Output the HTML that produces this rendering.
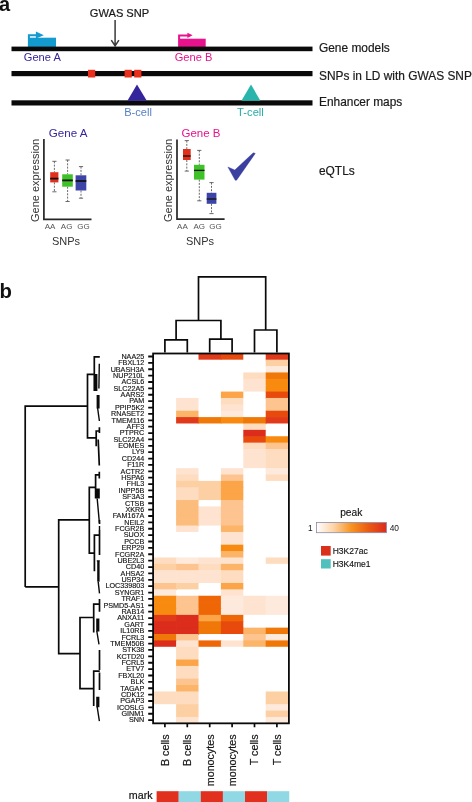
<!DOCTYPE html>
<html><head><meta charset="utf-8"><title>Figure</title>
<style>
html,body{margin:0;padding:0;background:#fff;}
body{width:472px;height:802px;overflow:hidden;}
svg{display:block;}
svg text{font-family:"Liberation Sans",sans-serif;}
</style></head><body>
<svg width="472" height="802" viewBox="0 0 472 802">
<rect x="0" y="0" width="472" height="802" fill="#fff"/>
<text x="-1.1" y="10.5" font-size="20" font-weight="bold" fill="#111">a</text>
<text x="119.5" y="16.6" font-size="11.1" text-anchor="middle" fill="#1a1a1a" stroke="#1a1a1a" stroke-width="0.2">GWAS SNP</text>
<path d="M115.1 20 V45.6 M111.3 40.2 L115.1 46 L118.9 40.2" fill="none" stroke="#3a3a3a" stroke-width="1.5"/>
<rect x="27.9" y="37.7" width="28.1" height="9.3" fill="#139bd0"/>
<path d="M28.9 38 V35.2 H37" fill="none" stroke="#139bd0" stroke-width="2"/>
<path d="M35.9 31.4 L43.8 35.3 L35.9 38.6 Z" fill="#139bd0"/>
<rect x="178.1" y="38.7" width="27.6" height="8.3" fill="#e8128c"/>
<path d="M179.1 39 V35.4 H188" fill="none" stroke="#e8128c" stroke-width="2"/>
<path d="M187.4 32.7 L192.6 35.3 L187.4 38 Z" fill="#e8128c"/>
<rect x="11.5" y="46.6" width="301" height="4.6" fill="#0a0a0a"/>
<rect x="11.5" y="71" width="301" height="5.2" fill="#0a0a0a"/>
<rect x="11.5" y="100.3" width="301" height="5.2" fill="#0a0a0a"/>
<text x="23.8" y="61.3" font-size="11.1" fill="#35259c">Gene A</text>
<text x="174.7" y="60.8" font-size="11.1" fill="#e8128c">Gene B</text>
<rect x="88" y="69.8" width="7.2" height="7.7" fill="#e8301c"/>
<rect x="124.6" y="69.8" width="7.2" height="7.7" fill="#e8301c"/>
<rect x="134.2" y="69.8" width="7.2" height="7.7" fill="#e8301c"/>
<path d="M137 84.4 L127.4 100.8 L146.8 100.8 Z" fill="#35259c"/>
<path d="M251 84.4 L241.4 100.8 L260.4 100.8 Z" fill="#2ab5ac"/>
<text x="124.2" y="116.2" font-size="11.1" fill="#5580c4">B-cell</text>
<text x="237.1" y="116.3" font-size="11.2" fill="#27ada8">T-cell</text>
<text x="319" y="52.4" font-size="11.9" fill="#1a1a1a" stroke="#1a1a1a" stroke-width="0.2">Gene models</text>
<text x="319" y="79.6" font-size="11.9" fill="#1a1a1a" stroke="#1a1a1a" stroke-width="0.2">SNPs in LD with GWAS SNP</text>
<text x="319" y="106.2" font-size="11.9" fill="#1a1a1a" stroke="#1a1a1a" stroke-width="0.2">Enhancer maps</text>
<text x="319" y="174.7" font-size="11.9" fill="#1a1a1a" stroke="#1a1a1a" stroke-width="0.2">eQTLs</text>
<path d="M43.9 139 V219.4 H91.5" fill="none" stroke="#262626" stroke-width="1.7"/>
<path d="M54.4 161.3 V172.2 M54.4 182.4 V191.8" stroke="#5a5a5a" stroke-width="0.9" stroke-dasharray="2 1.3" fill="none"/><path d="M52.3 161.3 H56.5 M52.3 191.8 H56.5" stroke="#5a5a5a" stroke-width="0.9" fill="none"/><rect x="50.2" y="172.2" width="8.2" height="10.2" fill="#e1301e"/><path d="M50.2 178.6 H58.4" stroke="#111" stroke-width="1.8"/>
<path d="M67.6 160 V174.3 M67.6 186.7 V201.5" stroke="#5a5a5a" stroke-width="0.9" stroke-dasharray="2 1.3" fill="none"/><path d="M65.5 160 H69.7 M65.5 201.5 H69.7" stroke="#5a5a5a" stroke-width="0.9" fill="none"/><rect x="62.2" y="174.3" width="10.6" height="12.4" fill="#3fc128"/><path d="M62.2 180.4 H72.8" stroke="#111" stroke-width="1.8"/>
<path d="M81 166.6 V175.3 M81 190.5 V198.2" stroke="#5a5a5a" stroke-width="0.9" stroke-dasharray="2 1.3" fill="none"/><path d="M78.9 166.6 H83.1 M78.9 198.2 H83.1" stroke="#5a5a5a" stroke-width="0.9" fill="none"/><rect x="75.6" y="175.3" width="10.7" height="15.2" fill="#3c44a8"/><path d="M75.6 181 H86.3" stroke="#111" stroke-width="1.8"/>
<text x="68.1" y="136.6" font-size="11.6" text-anchor="middle" fill="#35259c">Gene A</text>
<text transform="translate(39.3 222) rotate(-90)" font-size="11" fill="#333">Gene expression</text>
<text x="50" y="229" font-size="8" text-anchor="middle" fill="#555">AA</text>
<text x="66.6" y="229" font-size="8" text-anchor="middle" fill="#555">AG</text>
<text x="83.5" y="229" font-size="8" text-anchor="middle" fill="#555">GG</text>
<text x="66" y="244.6" font-size="11" text-anchor="middle" fill="#333">SNPs</text>
<path d="M177 139.6 V219.2 H224.6" fill="none" stroke="#262626" stroke-width="1.7"/>
<path d="M186.8 140.6 V149 M186.8 160 V171.1" stroke="#5a5a5a" stroke-width="0.9" stroke-dasharray="2 1.3" fill="none"/><path d="M184.7 140.6 H188.9 M184.7 171.1 H188.9" stroke="#5a5a5a" stroke-width="0.9" fill="none"/><rect x="183" y="149" width="7.7" height="11.0" fill="#e1301e"/><path d="M183 156 H190.7" stroke="#111" stroke-width="1.3"/>
<path d="M199.3 150.4 V164.8 M199.3 179.6 V200.8" stroke="#5a5a5a" stroke-width="0.9" stroke-dasharray="2 1.3" fill="none"/><path d="M197.2 150.4 H201.4 M197.2 200.8 H201.4" stroke="#5a5a5a" stroke-width="0.9" fill="none"/><rect x="194" y="164.8" width="10.5" height="14.8" fill="#3fc128"/><path d="M194 170.4 H204.5" stroke="#111" stroke-width="1.3"/>
<path d="M211.5 182.6 V192.8 M211.5 203.8 V213.6" stroke="#5a5a5a" stroke-width="0.9" stroke-dasharray="2 1.3" fill="none"/><path d="M209.4 182.6 H213.6 M209.4 213.6 H213.6" stroke="#5a5a5a" stroke-width="0.9" fill="none"/><rect x="206.7" y="192.8" width="9.7" height="11.0" fill="#3c44a8"/><path d="M206.7 199 H216.4" stroke="#111" stroke-width="1.3"/>
<text x="201" y="136.5" font-size="11.5" text-anchor="middle" fill="#e8128c">Gene B</text>
<text transform="translate(172.2 222) rotate(-90)" font-size="11" fill="#333">Gene expression</text>
<text x="182.4" y="229" font-size="8" text-anchor="middle" fill="#555">AA</text>
<text x="199.3" y="229" font-size="8" text-anchor="middle" fill="#555">AG</text>
<text x="215.5" y="229" font-size="8" text-anchor="middle" fill="#555">GG</text>
<text x="200" y="244.6" font-size="11" text-anchor="middle" fill="#333">SNPs</text>
<path d="M227.9 167 L234.8 170 L253.3 152.8 L255.3 153.4 L236.6 180.2 L235.2 180.2 Z" fill="#3b3f9f" stroke="#3b3f9f" stroke-width="0.4" stroke-linejoin="round"/>
<text x="-0.5" y="297.8" font-size="20.3" font-weight="bold" fill="#111">b</text>
<rect x="198.50" y="353.30" width="23.10" height="6.38" fill="#e03a1a"/>
<rect x="220.90" y="353.30" width="22.40" height="6.38" fill="#e84a0e"/>
<rect x="265.70" y="353.30" width="22.40" height="7.08" fill="#e03a1a"/>
<rect x="265.70" y="359.68" width="22.40" height="7.08" fill="#fdd0a4"/>
<rect x="265.70" y="366.06" width="22.40" height="7.08" fill="#feeadc"/>
<rect x="243.30" y="372.44" width="23.10" height="7.08" fill="#fedcc0"/>
<rect x="265.70" y="372.44" width="22.40" height="7.08" fill="#f07808"/>
<rect x="243.30" y="378.82" width="23.10" height="7.08" fill="#fee4d0"/>
<rect x="265.70" y="378.82" width="22.40" height="7.08" fill="#f88a10"/>
<rect x="243.30" y="385.20" width="23.10" height="6.38" fill="#fee4d0"/>
<rect x="265.70" y="385.20" width="22.40" height="7.08" fill="#f88a10"/>
<rect x="220.90" y="391.58" width="22.40" height="7.08" fill="#fba548"/>
<rect x="265.70" y="391.58" width="22.40" height="7.08" fill="#e84a0e"/>
<rect x="176.10" y="397.96" width="22.40" height="7.08" fill="#fee4d0"/>
<rect x="220.90" y="397.96" width="22.40" height="7.08" fill="#fedcc0"/>
<rect x="265.70" y="397.96" width="22.40" height="7.08" fill="#fdc490"/>
<rect x="176.10" y="404.34" width="22.40" height="7.08" fill="#fee4d0"/>
<rect x="220.90" y="404.34" width="22.40" height="7.08" fill="#fee4d0"/>
<rect x="265.70" y="404.34" width="22.40" height="7.08" fill="#fdc490"/>
<rect x="176.10" y="410.72" width="22.40" height="7.08" fill="#fcb468"/>
<rect x="220.90" y="410.72" width="22.40" height="7.08" fill="#feeadc"/>
<rect x="265.70" y="410.72" width="22.40" height="7.08" fill="#e84a0e"/>
<rect x="176.10" y="417.10" width="23.10" height="6.38" fill="#e03a1a"/>
<rect x="198.50" y="417.10" width="23.10" height="6.38" fill="#f07808"/>
<rect x="220.90" y="417.10" width="23.10" height="6.38" fill="#f88a10"/>
<rect x="243.30" y="417.10" width="23.10" height="7.08" fill="#f07808"/>
<rect x="265.70" y="417.10" width="22.40" height="6.38" fill="#e03a1a"/>
<rect x="243.30" y="423.48" width="22.40" height="7.08" fill="#fedcc0"/>
<rect x="243.30" y="429.86" width="22.40" height="7.08" fill="#dc2c1c"/>
<rect x="243.30" y="436.24" width="23.10" height="7.08" fill="#e84a0e"/>
<rect x="265.70" y="436.24" width="22.40" height="7.08" fill="#f88a10"/>
<rect x="243.30" y="442.62" width="23.10" height="7.08" fill="#fedcc0"/>
<rect x="265.70" y="442.62" width="22.40" height="7.08" fill="#fdc490"/>
<rect x="243.30" y="449.00" width="23.10" height="7.08" fill="#fee4d0"/>
<rect x="265.70" y="449.00" width="22.40" height="7.08" fill="#fedcc0"/>
<rect x="243.30" y="455.38" width="23.10" height="7.08" fill="#fee4d0"/>
<rect x="265.70" y="455.38" width="22.40" height="7.08" fill="#fedcc0"/>
<rect x="243.30" y="461.76" width="23.10" height="6.38" fill="#fee4d0"/>
<rect x="265.70" y="461.76" width="22.40" height="7.08" fill="#fedcc0"/>
<rect x="176.10" y="468.14" width="22.40" height="7.08" fill="#fee4d0"/>
<rect x="220.90" y="468.14" width="22.40" height="7.08" fill="#fee4d0"/>
<rect x="265.70" y="468.14" width="22.40" height="7.08" fill="#feeadc"/>
<rect x="176.10" y="474.52" width="22.40" height="7.08" fill="#fedcc0"/>
<rect x="220.90" y="474.52" width="22.40" height="7.08" fill="#fdc490"/>
<rect x="265.70" y="474.52" width="22.40" height="6.38" fill="#fedcc0"/>
<rect x="176.10" y="480.90" width="23.10" height="7.08" fill="#fdd0a4"/>
<rect x="198.50" y="480.90" width="23.10" height="7.08" fill="#fdd0a4"/>
<rect x="220.90" y="480.90" width="22.40" height="7.08" fill="#fba548"/>
<rect x="176.10" y="487.28" width="23.10" height="7.08" fill="#fedcc0"/>
<rect x="198.50" y="487.28" width="23.10" height="7.08" fill="#fdd0a4"/>
<rect x="220.90" y="487.28" width="22.40" height="7.08" fill="#fba548"/>
<rect x="176.10" y="493.66" width="23.10" height="7.08" fill="#fedcc0"/>
<rect x="198.50" y="493.66" width="23.10" height="6.38" fill="#fdd0a4"/>
<rect x="220.90" y="493.66" width="22.40" height="7.08" fill="#fba548"/>
<rect x="176.10" y="500.04" width="22.40" height="7.08" fill="#fcbc7c"/>
<rect x="220.90" y="500.04" width="22.40" height="7.08" fill="#fdc490"/>
<rect x="176.10" y="506.42" width="23.10" height="7.08" fill="#fcbc7c"/>
<rect x="198.50" y="506.42" width="23.10" height="7.08" fill="#fee4d0"/>
<rect x="220.90" y="506.42" width="22.40" height="7.08" fill="#fdc490"/>
<rect x="176.10" y="512.80" width="23.10" height="7.08" fill="#fcbc7c"/>
<rect x="198.50" y="512.80" width="23.10" height="7.08" fill="#fee4d0"/>
<rect x="220.90" y="512.80" width="22.40" height="7.08" fill="#fdc490"/>
<rect x="176.10" y="519.18" width="23.10" height="7.08" fill="#fcbc7c"/>
<rect x="198.50" y="519.18" width="23.10" height="6.38" fill="#fee4d0"/>
<rect x="220.90" y="519.18" width="22.40" height="7.08" fill="#fdc490"/>
<rect x="176.10" y="525.56" width="22.40" height="6.38" fill="#fee4d0"/>
<rect x="220.90" y="525.56" width="22.40" height="7.08" fill="#fcb468"/>
<rect x="220.90" y="531.94" width="22.40" height="7.08" fill="#fee4d0"/>
<rect x="220.90" y="538.32" width="22.40" height="7.08" fill="#fee4d0"/>
<rect x="220.90" y="544.70" width="22.40" height="7.08" fill="#f88a10"/>
<rect x="220.90" y="551.08" width="22.40" height="7.08" fill="#fcb468"/>
<rect x="153.70" y="557.46" width="23.10" height="7.08" fill="#fedcc0"/>
<rect x="176.10" y="557.46" width="23.10" height="7.08" fill="#feeadc"/>
<rect x="198.50" y="557.46" width="23.10" height="7.08" fill="#fee4d0"/>
<rect x="220.90" y="557.46" width="22.40" height="7.08" fill="#fee4d0"/>
<rect x="265.70" y="557.46" width="22.40" height="6.38" fill="#fedcc0"/>
<rect x="153.70" y="563.84" width="23.10" height="7.08" fill="#fdd0a4"/>
<rect x="176.10" y="563.84" width="23.10" height="7.08" fill="#fdc490"/>
<rect x="198.50" y="563.84" width="23.10" height="7.08" fill="#fedcc0"/>
<rect x="220.90" y="563.84" width="22.40" height="7.08" fill="#fcb468"/>
<rect x="153.70" y="570.22" width="23.10" height="7.08" fill="#fee4d0"/>
<rect x="176.10" y="570.22" width="23.10" height="7.08" fill="#fee4d0"/>
<rect x="198.50" y="570.22" width="23.10" height="7.08" fill="#fee4d0"/>
<rect x="220.90" y="570.22" width="22.40" height="7.08" fill="#fedcc0"/>
<rect x="153.70" y="576.60" width="23.10" height="7.08" fill="#fee4d0"/>
<rect x="176.10" y="576.60" width="23.10" height="7.08" fill="#fee4d0"/>
<rect x="198.50" y="576.60" width="23.10" height="6.38" fill="#fee4d0"/>
<rect x="220.90" y="576.60" width="22.40" height="7.08" fill="#fedcc0"/>
<rect x="153.70" y="582.98" width="23.10" height="7.08" fill="#fdc490"/>
<rect x="176.10" y="582.98" width="22.40" height="6.38" fill="#fdd0a4"/>
<rect x="220.90" y="582.98" width="22.40" height="7.08" fill="#fba548"/>
<rect x="153.70" y="589.36" width="22.40" height="7.08" fill="#feeadc"/>
<rect x="220.90" y="589.36" width="22.40" height="7.08" fill="#fee4d0"/>
<rect x="153.70" y="595.74" width="23.10" height="7.08" fill="#f88a10"/>
<rect x="176.10" y="595.74" width="23.10" height="7.08" fill="#fdc490"/>
<rect x="198.50" y="595.74" width="23.10" height="7.08" fill="#ee6606"/>
<rect x="220.90" y="595.74" width="23.10" height="7.08" fill="#feeadc"/>
<rect x="243.30" y="595.74" width="23.10" height="7.08" fill="#fee4d0"/>
<rect x="265.70" y="595.74" width="22.40" height="7.08" fill="#feeadc"/>
<rect x="153.70" y="602.12" width="23.10" height="7.08" fill="#f88a10"/>
<rect x="176.10" y="602.12" width="23.10" height="7.08" fill="#fdc490"/>
<rect x="198.50" y="602.12" width="23.10" height="7.08" fill="#ee6606"/>
<rect x="220.90" y="602.12" width="23.10" height="7.08" fill="#feeadc"/>
<rect x="243.30" y="602.12" width="23.10" height="7.08" fill="#fee4d0"/>
<rect x="265.70" y="602.12" width="22.40" height="7.08" fill="#feeadc"/>
<rect x="153.70" y="608.50" width="23.10" height="7.08" fill="#f88a10"/>
<rect x="176.10" y="608.50" width="23.10" height="7.08" fill="#fdc490"/>
<rect x="198.50" y="608.50" width="23.10" height="7.08" fill="#ee6606"/>
<rect x="220.90" y="608.50" width="23.10" height="7.08" fill="#feeadc"/>
<rect x="243.30" y="608.50" width="23.10" height="6.38" fill="#fee4d0"/>
<rect x="265.70" y="608.50" width="22.40" height="6.38" fill="#feeadc"/>
<rect x="153.70" y="614.88" width="23.10" height="7.08" fill="#e03a1a"/>
<rect x="176.10" y="614.88" width="23.10" height="7.08" fill="#dc2c1c"/>
<rect x="198.50" y="614.88" width="23.10" height="7.08" fill="#fba548"/>
<rect x="220.90" y="614.88" width="22.40" height="7.08" fill="#ee6606"/>
<rect x="153.70" y="621.26" width="23.10" height="7.08" fill="#dc2c1c"/>
<rect x="176.10" y="621.26" width="23.10" height="7.08" fill="#dc2c1c"/>
<rect x="198.50" y="621.26" width="23.10" height="7.08" fill="#f07808"/>
<rect x="220.90" y="621.26" width="22.40" height="7.08" fill="#e84a0e"/>
<rect x="153.70" y="627.64" width="23.10" height="7.08" fill="#dc2c1c"/>
<rect x="176.10" y="627.64" width="23.10" height="7.08" fill="#dc2c1c"/>
<rect x="198.50" y="627.64" width="23.10" height="6.38" fill="#f07808"/>
<rect x="220.90" y="627.64" width="23.10" height="6.38" fill="#e84a0e"/>
<rect x="243.30" y="627.64" width="23.10" height="7.08" fill="#fcb468"/>
<rect x="265.70" y="627.64" width="22.40" height="7.08" fill="#f07808"/>
<rect x="153.70" y="634.02" width="23.10" height="7.08" fill="#f07808"/>
<rect x="176.10" y="634.02" width="22.40" height="7.08" fill="#fdc490"/>
<rect x="243.30" y="634.02" width="23.10" height="7.08" fill="#fdc490"/>
<rect x="265.70" y="634.02" width="22.40" height="7.08" fill="#feeadc"/>
<rect x="153.70" y="640.40" width="23.10" height="6.38" fill="#dc2c1c"/>
<rect x="176.10" y="640.40" width="23.10" height="7.08" fill="#fee4d0"/>
<rect x="198.50" y="640.40" width="23.10" height="6.38" fill="#ee6606"/>
<rect x="220.90" y="640.40" width="23.10" height="6.38" fill="#fee4d0"/>
<rect x="243.30" y="640.40" width="23.10" height="6.38" fill="#fcb468"/>
<rect x="265.70" y="640.40" width="22.40" height="6.38" fill="#f07808"/>
<rect x="176.10" y="646.78" width="22.40" height="7.08" fill="#fedcc0"/>
<rect x="176.10" y="653.16" width="22.40" height="7.08" fill="#fedcc0"/>
<rect x="176.10" y="659.54" width="22.40" height="7.08" fill="#fba548"/>
<rect x="176.10" y="665.92" width="22.40" height="7.08" fill="#fedcc0"/>
<rect x="176.10" y="672.30" width="22.40" height="7.08" fill="#fedcc0"/>
<rect x="176.10" y="678.68" width="22.40" height="7.08" fill="#fdc490"/>
<rect x="176.10" y="685.06" width="22.40" height="7.08" fill="#fcb468"/>
<rect x="153.70" y="691.44" width="23.10" height="7.08" fill="#fedcc0"/>
<rect x="176.10" y="691.44" width="22.40" height="7.08" fill="#fedcc0"/>
<rect x="265.70" y="691.44" width="22.40" height="7.08" fill="#fdd0a4"/>
<rect x="153.70" y="697.82" width="23.10" height="6.38" fill="#fedcc0"/>
<rect x="176.10" y="697.82" width="22.40" height="7.08" fill="#fedcc0"/>
<rect x="265.70" y="697.82" width="22.40" height="7.08" fill="#fdd0a4"/>
<rect x="176.10" y="704.20" width="22.40" height="7.08" fill="#fdd0a4"/>
<rect x="265.70" y="704.20" width="22.40" height="7.08" fill="#feeadc"/>
<rect x="176.10" y="710.58" width="22.40" height="7.08" fill="#fdd0a4"/>
<rect x="265.70" y="710.58" width="22.40" height="7.08" fill="#fdd0a4"/>
<rect x="176.10" y="716.96" width="22.40" height="6.38" fill="#fee4d0"/>
<rect x="265.70" y="716.96" width="22.40" height="6.38" fill="#feeadc"/>
<rect x="153.10" y="353.50" width="135.80" height="369.84" fill="none" stroke="#0a0a0a" stroke-width="1.8"/>
<path d="M148.2 356.49H153.0M148.2 362.87H153.0M148.2 369.25H153.0M148.2 375.63H153.0M148.2 382.01H153.0M148.2 388.39H153.0M148.2 394.77H153.0M148.2 401.15H153.0M148.2 407.53H153.0M148.2 413.91H153.0M148.2 420.29H153.0M148.2 426.67H153.0M148.2 433.05H153.0M148.2 439.43H153.0M148.2 445.81H153.0M148.2 452.19H153.0M148.2 458.57H153.0M148.2 464.95H153.0M148.2 471.33H153.0M148.2 477.71H153.0M148.2 484.09H153.0M148.2 490.47H153.0M148.2 496.85H153.0M148.2 503.23H153.0M148.2 509.61H153.0M148.2 515.99H153.0M148.2 522.37H153.0M148.2 528.75H153.0M148.2 535.13H153.0M148.2 541.51H153.0M148.2 547.89H153.0M148.2 554.27H153.0M148.2 560.65H153.0M148.2 567.03H153.0M148.2 573.41H153.0M148.2 579.79H153.0M148.2 586.17H153.0M148.2 592.55H153.0M148.2 598.93H153.0M148.2 605.31H153.0M148.2 611.69H153.0M148.2 618.07H153.0M148.2 624.45H153.0M148.2 630.83H153.0M148.2 637.21H153.0M148.2 643.59H153.0M148.2 649.97H153.0M148.2 656.35H153.0M148.2 662.73H153.0M148.2 669.11H153.0M148.2 675.49H153.0M148.2 681.87H153.0M148.2 688.25H153.0M148.2 694.63H153.0M148.2 701.01H153.0M148.2 707.39H153.0M148.2 713.77H153.0M148.2 720.15H153.0" stroke="#0a0a0a" stroke-width="1.8" fill="none"/>
<g font-size="7.2" text-anchor="end" fill="#151515" stroke="#151515" stroke-width="0.15">
<text x="144.2" y="358.79">NAA25</text>
<text x="144.2" y="365.17">FBXL12</text>
<text x="144.2" y="371.55">UBASH3A</text>
<text x="144.2" y="377.93">NUP210L</text>
<text x="144.2" y="384.31">ACSL6</text>
<text x="144.2" y="390.69">SLC22A5</text>
<text x="144.2" y="397.07">AARS2</text>
<text x="144.2" y="403.45">PAM</text>
<text x="144.2" y="409.83">PPIP5K2</text>
<text x="144.2" y="416.21">RNASET2</text>
<text x="144.2" y="422.59">TMEM116</text>
<text x="144.2" y="428.97">AFF3</text>
<text x="144.2" y="435.35">PTPRC</text>
<text x="144.2" y="441.73">SLC22A4</text>
<text x="144.2" y="448.11">EOMES</text>
<text x="144.2" y="454.49">LY9</text>
<text x="144.2" y="460.87">CD244</text>
<text x="144.2" y="467.25">F11R</text>
<text x="144.2" y="473.63">ACTR2</text>
<text x="144.2" y="480.01">HSPA6</text>
<text x="144.2" y="486.39">FHL3</text>
<text x="144.2" y="492.77">INPP5B</text>
<text x="144.2" y="499.15">SF3A3</text>
<text x="144.2" y="505.53">CTSB</text>
<text x="144.2" y="511.91">XKR6</text>
<text x="144.2" y="518.29">FAM167A</text>
<text x="144.2" y="524.67">NEIL2</text>
<text x="144.2" y="531.05">FCGR2B</text>
<text x="144.2" y="537.43">SUOX</text>
<text x="144.2" y="543.81">PCCB</text>
<text x="144.2" y="550.19">ERP29</text>
<text x="144.2" y="556.57">FCGR2A</text>
<text x="144.2" y="562.95">UBE2L3</text>
<text x="144.2" y="569.33">CD40</text>
<text x="144.2" y="575.71">AHSA2</text>
<text x="144.2" y="582.09">USP34</text>
<text x="144.2" y="588.47">LOC339803</text>
<text x="144.2" y="594.85">SYNGR1</text>
<text x="144.2" y="601.23">TRAF1</text>
<text x="144.2" y="607.61">PSMD5-AS1</text>
<text x="144.2" y="613.99">RAB14</text>
<text x="144.2" y="620.37">ANXA11</text>
<text x="144.2" y="626.75">GART</text>
<text x="144.2" y="633.13">IL10RB</text>
<text x="144.2" y="639.51">FCRL3</text>
<text x="144.2" y="645.89">TMEM50B</text>
<text x="144.2" y="652.27">STK38</text>
<text x="144.2" y="658.65">KCTD20</text>
<text x="144.2" y="665.03">FCRL5</text>
<text x="144.2" y="671.41">ETV7</text>
<text x="144.2" y="677.79">FBXL20</text>
<text x="144.2" y="684.17">BLK</text>
<text x="144.2" y="690.55">TAGAP</text>
<text x="144.2" y="696.93">CDK12</text>
<text x="144.2" y="703.31">PGAP3</text>
<text x="144.2" y="709.69">ICOSLG</text>
<text x="144.2" y="716.07">GINM1</text>
<text x="144.2" y="722.45">SNN</text>
</g>
<path d="M164.90 723.3V727.2M187.30 723.3V727.2M209.70 723.3V727.2M232.10 723.3V727.2M254.50 723.3V727.2M276.90 723.3V727.2" stroke="#0a0a0a" stroke-width="1.7" fill="none"/>
<g font-size="10.7" text-anchor="end" fill="#151515" stroke="#151515" stroke-width="0.2">
<text transform="translate(168.80 734.5) rotate(-90)">B cells</text>
<text transform="translate(191.20 734.5) rotate(-90)">B cells</text>
<text transform="translate(213.60 734.5) rotate(-90)">monocytes</text>
<text transform="translate(236.00 734.5) rotate(-90)">monocytes</text>
<text transform="translate(258.40 734.5) rotate(-90)">T cells</text>
<text transform="translate(280.80 734.5) rotate(-90)">T cells</text>
</g>
<rect x="156.60" y="791.2" width="22.15" height="11" fill="#e1301e"/>
<rect x="178.70" y="791.2" width="22.15" height="11" fill="#8fd8e4"/>
<rect x="200.80" y="791.2" width="22.15" height="11" fill="#e1301e"/>
<rect x="222.90" y="791.2" width="22.15" height="11" fill="#8fd8e4"/>
<rect x="245.00" y="791.2" width="22.15" height="11" fill="#e1301e"/>
<rect x="267.10" y="791.2" width="22.15" height="11" fill="#8fd8e4"/>
<text x="152.6" y="799.3" font-size="10.7" text-anchor="end" fill="#151515" stroke="#151515" stroke-width="0.2">mark</text>
<path d="M164.9 352.6V339.8H187.3V352.6M209.7 352.6V339.2H232.1V352.6M254.5 352.6V330H276.9V352.6M176.1 339.8V320.5H220.9V339.2M198.5 320.5V276.8H265.7V330" stroke="#0a0a0a" stroke-width="1.7" fill="none" stroke-linejoin="miter"/>
<path d="M25.2 586.9V406.1H87.5M94.3 374.3H87.5V437.9H96.2M99.8 356.8H94.3V391M96.2 446.2V431H99.8M99.4 427.3V433M98.2 439.5L99.3 465.5M25.2 586.9H58.7M89.3 519.8H58.7V653.6H80M95.6 487.4H89.3V553.1H94.4M99.8 474.9H95.6V498.6M99.3 471.8V478.6M99.8 535.2H94.4V571.3M99.5 520V524M99.5 530V555M93.7 617.5H80V688.6H93.7M99.8 604.2H93.7V632.6M99.5 599V611.7M99.5 650V670M99.5 672.5V690M99.8 671.1H93.7V706" stroke="#0a0a0a" stroke-width="1.7" fill="none"/>
<path d="M94.6 374H97.4V391H94.6ZM96.6 395H99.6V408.6H96.6ZM96 488.6H99.8V498.6H96ZM96.8 560.2H99.8V561.6H96.8ZM97.2 561H99.6V581.8H97.2ZM96.2 618.6H99.4V631.5H96.2ZM96.2 696.7H99.4V707.2H96.2Z" fill="#0a0a0a"/>
<path d="M99.3 363.7L98.9 388.6M97.6 408L99.4 421M97.2 498.6L99.4 523M99.5 526V530M98.2 581.8L99.5 593.4M96.8 631L99 644.3M97.2 707L99.4 721.2" stroke="#0a0a0a" stroke-width="1.4" fill="none"/>
<defs><linearGradient id="pk" x1="0" x2="1" y1="0" y2="0"><stop offset="0" stop-color="#ffffff"/><stop offset="0.25" stop-color="#fdd3a6"/><stop offset="0.5" stop-color="#f8931f"/><stop offset="0.75" stop-color="#ea5a12"/><stop offset="1" stop-color="#dc2c1c"/></linearGradient></defs>
<text x="351.2" y="516" font-size="10.2" text-anchor="middle" fill="#151515" stroke="#151515" stroke-width="0.15">peak</text>
<rect x="316.4" y="522.5" width="70" height="10.2" fill="url(#pk)" stroke="#8a8aa8" stroke-width="0.8"/>
<text x="312.6" y="530.7" font-size="8.4" text-anchor="end" fill="#151515">1</text>
<text x="389.7" y="530.7" font-size="8.4" fill="#151515">40</text>
<rect x="321" y="546" width="9.7" height="9.6" fill="#dc2f1a"/>
<rect x="321" y="559.2" width="9.7" height="9.3" fill="#4fc0bc"/>
<text x="332.7" y="554" font-size="8.5" fill="#151515" stroke="#151515" stroke-width="0.15">H3K27ac</text>
<text x="332.7" y="567" font-size="8.5" fill="#151515" stroke="#151515" stroke-width="0.15">H3K4me1</text>
</svg>
</body></html>
